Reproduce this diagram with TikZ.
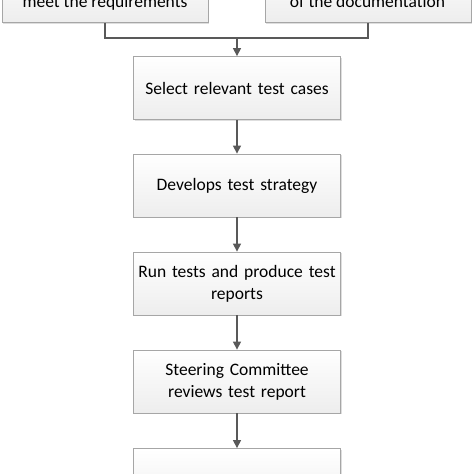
\documentclass[tikz,border=0pt]{standalone}
\usepackage{fontspec}
\setmainfont{Carlito}
\usetikzlibrary{arrows.meta,shadows}
\begin{document}
\begin{tikzpicture}[x=1pt,y=-1pt,
  boxfont/.style={font=\fontsize{17.5}{22}\selectfont},
  stepbox/.style={draw=black!35, line width=0.8pt, top color=white, bottom color=black!7,
    minimum width=207pt, minimum height=63pt, align=center, boxfont,
    inner sep=2pt, text width=200pt,
    drop shadow={shadow xshift=1pt, shadow yshift=-1pt, fill=black!25, opacity=0.5}},
  conn/.style={draw=black!65, line width=1.2pt},
  arr/.style={conn, -{Triangle[length=8pt,width=8pt]}}]
\useasboundingbox (0,0) rectangle (474,474);
\clip (0,0) rectangle (474,474);
\fill[white] (0,0) rectangle (474,474);
\node[stepbox, minimum width=206pt] (a) at (105,-9) {};
\node[stepbox, minimum width=206pt] (b) at (368,-9) {};
\node[boxfont, anchor=base, inner sep=0pt] (at) at (105,7) {meet the requirements};
\node[boxfont, anchor=base, inner sep=0pt] (bt) at (367.5,7) {of the documentation};
\node[stepbox] (s1) at (237,88) {\hyphenpenalty=10000 Select relevant test cases};
\node[stepbox] (s2) at (237,185.5) {\hyphenpenalty=10000 Develops test strategy};
\node[stepbox] (s3) at (237,283.5) {\hyphenpenalty=10000 Run tests and produce test\\reports};
\node[stepbox] (s4) at (237,381.5) {\hyphenpenalty=10000 Steering Committee\\reviews test report};
\node[stepbox] (s5) at (237,480) {};
\coordinate (j) at (237,38);
\draw[conn] (a.south) |- (j);
\draw[conn] (b.south) |- (j);
\draw[arr] (j) -- (s1.north);
\draw[arr] (s1.south) -- (s2.north);
\draw[arr] (s2.south) -- (s3.north);
\draw[arr] (s3.south) -- (s4.north);
\draw[arr] (s4.south) -- (s5.north);
\end{tikzpicture}
\end{document}
